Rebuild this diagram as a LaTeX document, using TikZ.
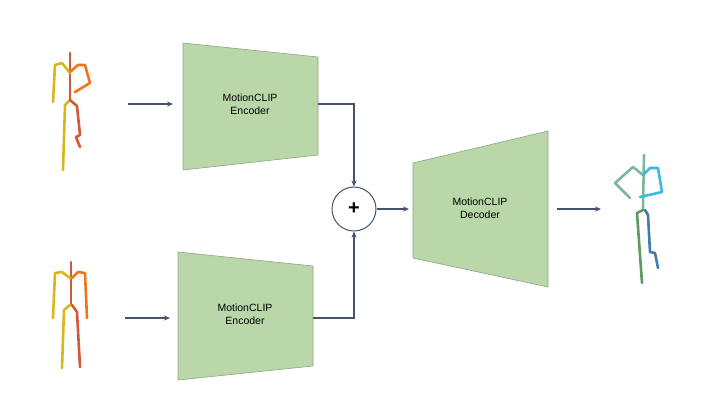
\documentclass[tikz,border=0pt]{standalone}
\usepackage{fontspec}
\setmainfont{Liberation Sans}
\usetikzlibrary{arrows.meta}
\definecolor{boxfill}{HTML}{B9D7A9}
\definecolor{boxline}{HTML}{8FA388}
\definecolor{arr}{HTML}{44546A}
\definecolor{yel}{HTML}{D9B51E}
\definecolor{ora}{HTML}{F0761E}
\definecolor{red1}{HTML}{D4583A}
\definecolor{gry}{HTML}{7DB89A}
\definecolor{cya}{HTML}{3BBAE0}
\definecolor{grn}{HTML}{5E9960}
\definecolor{blu}{HTML}{3F7DAE}
\begin{document}
\begin{tikzpicture}[x=1pt,y=-1pt,
  trap/.style={fill=boxfill,draw=boxline,line width=0.6pt},
  lbl/.style={align=center,font=\fontsize{10.5}{13}\selectfont},
  con/.style={draw=arr,line width=1.2pt,-{Stealth[length=6pt,width=5pt]}},
  bone/.style={line width=2.6pt,line cap=round,line join=round}]
\useasboundingbox (0,0) rectangle (720,405);
% trapezoids
\draw[trap] (183,43) -- (318,57) -- (318,155) -- (183,170) -- cycle;
\draw[trap] (178,252) -- (313,266) -- (313,366) -- (178,380) -- cycle;
\draw[trap] (413,163) -- (548,131) -- (548,287) -- (413,258) -- cycle;
\node[lbl] (e1) at (250,104) {MotionCLIP\\Encoder};
\node[lbl] (e2) at (245,314) {MotionCLIP\\Encoder};
\node[lbl] (d) at (480,208) {MotionCLIP\\Decoder};
\coordinate (e1r) at (318,104);
\coordinate (e2r) at (313,318);
\coordinate (e1l) at (173,104);
\coordinate (e2l) at (170,318);
\coordinate (dl) at (409,209);
\coordinate (dr) at (557,209);
\coordinate (s1) at (128,104);
\coordinate (s2) at (125,318);
\coordinate (t) at (601,209);
\node[circle,draw=arr,fill=white,line width=1pt,minimum size=44pt,inner sep=0pt,font=\fontsize{20}{20}\selectfont\bfseries] (p) at (354,209) {+};
\draw[con] (s1) -- (e1l);
\draw[con] (s2) -- (e2l);
\draw[con] (e1r) -| (p.north);
\draw[con] (e2r) -| (p.south);
\draw[con] (p.east) -- (dl);
\draw[con] (dr) -- (t);
% figure 1
\draw[bone,red1] (70,53) -- (70,100);
\draw[bone,yel] (70,73) -- (62,63) -- (55,65) -- (53,102);
\draw[bone,ora] (70,72) -- (78,65) -- (85,65) -- (90,83) -- (75,92);
\draw[bone,yel] (70,100) -- (65,105) -- (63,170);
\draw[bone,red1] (70,100) -- (77,106) -- (80,135) -- (76,137) -- (80,147);
% figure 2
\draw[bone,red1] (71,262) -- (71,305);
\draw[bone,yel] (70,278) -- (62,272) -- (55,273) -- (53,318);
\draw[bone,ora] (72,278) -- (78,272) -- (85,273) -- (87,318);
\draw[bone,yel] (70,305) -- (64,310) -- (62,368);
\draw[bone,red1] (72,305) -- (77,312) -- (80,367);
% figure 3
\draw[bone,gry] (644,155) -- (643,208);
\draw[bone,gry] (643,175) -- (633,167) -- (615,183) -- (630,198);
\draw[bone,cya] (643,175) -- (650,168) -- (658,168) -- (662,192) -- (640,197);
\draw[bone,grn] (643,210) -- (637,213) -- (642,283);
\draw[bone,blu] (645,210) -- (648,215) -- (650,252) -- (655,253) -- (658,268);
\end{tikzpicture}
\end{document}
